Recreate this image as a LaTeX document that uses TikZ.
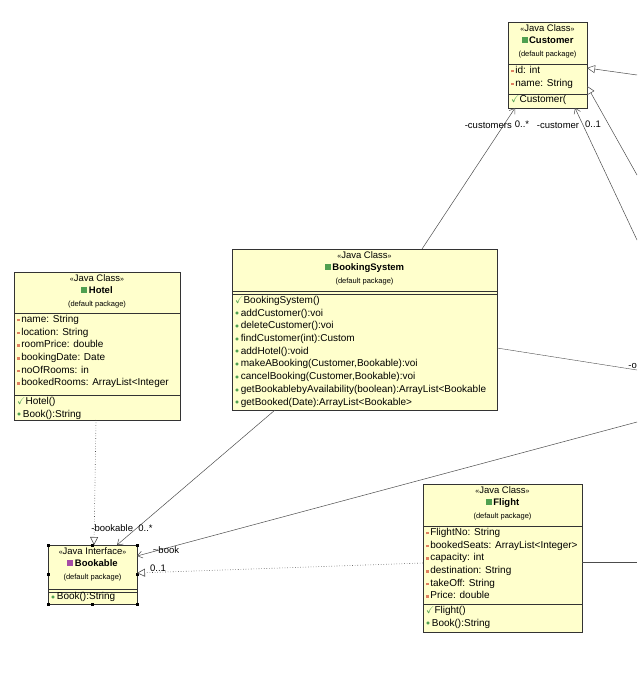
\documentclass[tikz,border=0pt]{standalone}
\usepackage{amssymb}
\usepackage{fontspec}
\setmainfont{Liberation Sans}
\usetikzlibrary{arrows.meta,calc}
\definecolor{cls}{HTML}{FFFFCC}
\definecolor{att}{HTML}{E08060}
\definecolor{opc}{HTML}{50A050}
\newcommand{\at}{{\color{att}\rule[1pt]{2.5pt}{2.5pt}}\,}
\newcommand{\op}{{\color{opc}\raisebox{0.3pt}{\scalebox{0.8}{$\bullet$}}}\,}
\newcommand{\ct}{{\color{opc}$\checkmark$}}
\newcommand{\ic}[1]{{\color{#1}\rule[0.5pt]{6pt}{6pt}}\,}
\begin{document}
\begin{tikzpicture}[x=1pt,y=-1pt,
  box/.style={draw=black!80,fill=cls,line width=0.6pt},
  hd/.style={font=\fontsize{9.5}{12.5}\selectfont,align=center,anchor=north,inner sep=0},
  tx/.style={font=\fontsize{10}{12.7}\selectfont,align=left,anchor=north west,inner sep=0},
  lb/.style={font=\fontsize{9.5}{10}\selectfont,inner sep=0},
  assoc/.style={draw=black!70,line width=0.5pt,-{Straight Barb[length=5pt,width=7pt]}},
  gen/.style={draw=black!70,line width=0.5pt,-{Triangle[open,length=8pt,width=8pt]}},
  real/.style={draw=black!70,line width=0.6pt,dotted,-{Triangle[open,length=8pt,width=8pt]}}]
\useasboundingbox (0,0) rectangle (637,700);
% Customer
\draw[box] (508,22) rectangle (587,108);
\draw[black!80] (508,64)--(587,64) (508,94)--(587,94);
\node[hd] (custh) at (547.5,24) {{\scriptsize\textless\textless}Java Class{\scriptsize\textgreater\textgreater}\\ \ic{opc}\textbf{Customer}\\ {\fontsize{7.5}{8}\selectfont (default package)}};
\node[tx] (custa) at (511,66) {\at id: int\\ \at name: String};
\node[tx] (custo) at (511,95) {\ct Customer(};
\coordinate (custb1) at (515,108);
\coordinate (custb2) at (575,108);
\coordinate (custr1) at (587,68);
\coordinate (custr2) at (587,86);
% BookingSystem
\draw[box] (232,249) rectangle (497,410);
\draw[black!80] (232,291)--(497,291) (232,294)--(497,294);
\node[hd] (bsh) at (364.5,251) {{\scriptsize\textless\textless}Java Class{\scriptsize\textgreater\textgreater}\\ \ic{opc}\textbf{BookingSystem}\\ {\fontsize{7.5}{8}\selectfont (default package)}};
\node[tx] (bso) at (235,296) {\ct BookingSystem()\\ \op addCustomer():voi\\ \op deleteCustomer():voi\\ \op findCustomer(int):Custom\\ \op addHotel():void\\ \op makeABooking(Customer,Bookable):voi\\ \op cancelBooking(Customer,Bookable):voi\\ \op getBookablebyAvailability(boolean):ArrayList<Bookable\\ \op getBooked(Date):ArrayList<Bookable>};
% Hotel
\draw[box] (14,272) rectangle (180,420);
\draw[black!80] (14,313)--(180,313) (14,395)--(180,395);
\node[hd] (hoh) at (97,274) {{\scriptsize\textless\textless}Java Class{\scriptsize\textgreater\textgreater}\\ \ic{opc}\textbf{Hotel}\\ {\fontsize{7.5}{8}\selectfont (default package)}};
\node[tx] (hoa) at (17,315) {\at name: String\\ \at location: String\\ \at roomPrice: double\\ \at bookingDate: Date\\ \at noOfRooms: in\\ \at bookedRooms: ArrayList<Integer};
\node[tx] (hoo) at (17,397) {\ct Hotel()\\ \op Book():String};
% Bookable
\draw[box,line width=1pt] (48,545) rectangle (137,604);
\draw[black!80] (48,589)--(137,589) (48,592)--(137,592);
\node[hd] (bkh) at (92.5,547) {{\scriptsize\textless\textless}Java Interface{\scriptsize\textgreater\textgreater}\\ \ic{violet!70}\textbf{Bookable}\\ {\fontsize{7.5}{8}\selectfont (default package)}};
\node[tx] (bko) at (51,592) {\op Book():String};
\foreach \p in {(48,545),(92,545),(137,545),(48,574),(137,574),(48,604),(92,604),(137,604)} \fill \p ++(-1.5,-1.5) rectangle ++(3,3);
% Flight
\draw[box] (423,484) rectangle (582,632);
\draw[black!80] (423,526)--(582,526) (423,604)--(582,604);
\node[hd] (flh) at (502.5,486) {{\scriptsize\textless\textless}Java Class{\scriptsize\textgreater\textgreater}\\ \ic{opc}\textbf{Flight}\\ {\fontsize{7.5}{8}\selectfont (default package)}};
\node[tx] (fla) at (426,528) {\at FlightNo: String\\ \at bookedSeats: ArrayList<Integer>\\ \at capacity: int\\ \at destination: String\\ \at takeOff: String\\ \at Price: double};
\node[tx] (flo) at (426,606) {\ct Flight()\\ \op Book():String};
% off-page coordinates
\coordinate (e1) at (637,75);
\coordinate (e2) at (637,175);
\coordinate (e3) at (637,370);
\coordinate (e4) at (637,422);
\coordinate (e5) at (637,562);
% connectors
\draw[gen] (e1) -- (custr1);
\draw[gen] (e2) -- (custr2);
\draw[assoc] (422,249) -- (custb1);
\draw[assoc] (637,240) -- (custb2);
\draw[black!70] (497,348) -- (e3);
\node[lb,anchor=east] (lo) at (637,366) {-o};
\draw[assoc] (275,410) -- (117,545);
\draw[real] (96,420) -- (94,545);
\draw[assoc] (e4) -- (137,556);
\draw[real] (423,563) -- (137,573);
\draw[black!70] (582,562) -- (e5);
% labels
\node[lb,anchor=east] (l1) at (512,125) {-customers};
\node[lb] (l2) at (522,124) {0..*};
\node[lb] (l3) at (558,125) {-customer};
\node[lb] (l4) at (593,124) {0..1};
\node[lb] (l5) at (122,528) {-bookable\ \ 0..*};
\node[lb] (l6) at (166,550) {\textasciitilde book};
\node[lb] (l7) at (158,568) {0..1};
\end{tikzpicture}
\end{document}
